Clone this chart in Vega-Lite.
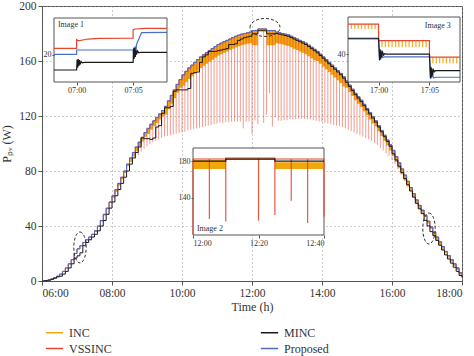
{
"$schema": "https://vega.github.io/schema/vega-lite/v6.json",
"width": 420, "height": 275,
"autosize": {"type": "none"},
"padding": {"left": 42, "top": 6, "right": 12, "bottom": 75},
"background": "white",
"config": {
  "font": "Liberation Serif",
  "view": {"stroke": "#555", "strokeWidth": 1},
  "axis": {"labelFont": "Liberation Serif", "titleFont": "Liberation Serif", "titleFontWeight": "normal", "labelColor": "#333", "titleColor": "#333", "domainColor": "#555", "tickColor": "#555", "gridColor": "#999", "gridDash": [1, 3], "gridWidth": 1}
},
"datasets": {
  "main": [
{"m":360,"p":0,"lo":0,"minc":0},
{"m":365,"p":0.3,"lo":0.3,"minc":0.2},
{"m":370,"p":0.8,"lo":0.8,"minc":0.6},
{"m":375,"p":1.5,"lo":1.5,"minc":1.2},
{"m":380,"p":2.4,"lo":2.4,"minc":2.0},
{"m":385,"p":3.5,"lo":3.5,"minc":3.0},
{"m":390,"p":5.0,"lo":5.0,"minc":3.5},
{"m":395,"p":7.0,"lo":7.0,"minc":5.0},
{"m":400,"p":9.5,"lo":9.5,"minc":7.0},
{"m":405,"p":12.5,"lo":12.5,"minc":9.5},
{"m":410,"p":15.5,"lo":15.5,"minc":12.5},
{"m":415,"p":20.0,"lo":20.0,"minc":16.6},
{"m":420,"p":23.4,"lo":23.4,"minc":18.3},
{"m":425,"p":25.7,"lo":25.7,"minc":20.5},
{"m":430,"p":28.0,"lo":28.0,"minc":25.7},
{"m":435,"p":30.0,"lo":30.0,"minc":28.0},
{"m":440,"p":32.0,"lo":32.0,"minc":30.0},
{"m":445,"p":34.0,"lo":34.0,"minc":32.0},
{"m":450,"p":36.5,"lo":35.7,"minc":34.0},
{"m":455,"p":40.0,"lo":39.2,"minc":36.5},
{"m":460,"p":44.0,"lo":43.2,"minc":40.0},
{"m":465,"p":48.5,"lo":47.7,"minc":44.0},
{"m":470,"p":53.0,"lo":52.2,"minc":48.5},
{"m":475,"p":57.5,"lo":56.7,"minc":53.0},
{"m":480,"p":62.0,"lo":60.5,"minc":57.5,"sp":60.5},
{"m":485,"p":66.5,"lo":65.0,"minc":62.0,"sp":64},
{"m":490,"p":71.0,"lo":69.5,"minc":66.5,"sp":68},
{"m":495,"p":75.5,"lo":74.0,"minc":71.0,"sp":72},
{"m":500,"p":80.0,"lo":78.5,"minc":75.5,"sp":76},
{"m":505,"p":85.0,"lo":83.5,"minc":80.0,"sp":80},
{"m":510,"p":89.5,"lo":86.5,"minc":85.0,"sp":83},
{"m":515,"p":93.5,"lo":90.5,"minc":89.5,"sp":86},
{"m":520,"p":97.5,"lo":94.5,"minc":93.5,"sp":89},
{"m":525,"p":101.0,"lo":98.0,"minc":97.5,"sp":91.5},
{"m":530,"p":104.5,"lo":101.5,"minc":104.0,"sp":94},
{"m":535,"p":108.0,"lo":105.0,"minc":103.5,"sp":96},
{"m":540,"p":111.0,"lo":107.0,"minc":103.5,"sp":98},
{"m":545,"p":114.0,"lo":110.0,"minc":103.0,"sp":99.5},
{"m":550,"p":116.5,"lo":112.5,"minc":104.0,"sp":101},
{"m":555,"p":119.0,"lo":115.0,"minc":112.0,"sp":102},
{"m":560,"p":121.5,"lo":117.5,"minc":113.0,"sp":103},
{"m":565,"p":124.0,"lo":120.0,"minc":122.0,"sp":104},
{"m":570,"p":127.0,"lo":121.0,"minc":126.0,"sp":105},
{"m":575,"p":131.0,"lo":125.0,"minc":126.0,"sp":105.5},
{"m":580,"p":135.0,"lo":129.0,"minc":127.0,"sp":106},
{"m":585,"p":139.0,"lo":133.0,"minc":138.0,"sp":106.5},
{"m":590,"p":143.0,"lo":137.0,"minc":139.0,"sp":107},
{"m":595,"p":146.5,"lo":140.5,"minc":139.0,"sp":107.5},
{"m":600,"p":150.0,"lo":142.0,"minc":139.0,"sp":108},
{"m":605,"p":152.5,"lo":144.5,"minc":139.0,"sp":108.5},
{"m":610,"p":155.0,"lo":147.0,"minc":140.0,"sp":109.5},
{"m":615,"p":157.0,"lo":149.0,"minc":151.0,"sp":110},
{"m":620,"p":159.0,"lo":151.0,"minc":151.5,"sp":110.5},
{"m":625,"p":161.0,"lo":153.0,"minc":152.0,"sp":111},
{"m":630,"p":163.0,"lo":155.0,"minc":159.0,"sp":111.5},
{"m":635,"p":164.5,"lo":156.5,"minc":163.0,"sp":112},
{"m":640,"p":166.0,"lo":158.0,"minc":164.5,"sp":112.5},
{"m":645,"p":167.5,"lo":159.5,"minc":167.0,"sp":113},
{"m":650,"p":169.0,"lo":161.0,"minc":167.0,"sp":113.5},
{"m":655,"p":170.5,"lo":162.5,"minc":167.0,"sp":114},
{"m":660,"p":172.0,"lo":164.0,"minc":167.5,"sp":114.5},
{"m":665,"p":173.0,"lo":165.0,"minc":168.0,"sp":115},
{"m":670,"p":174.0,"lo":166.0,"minc":168.5,"sp":115},
{"m":675,"p":175.0,"lo":167.0,"minc":169.0,"sp":115.5},
{"m":680,"p":176.0,"lo":168.0,"minc":172.0,"sp":115.5},
{"m":685,"p":177.0,"lo":169.0,"minc":172.0,"sp":116},
{"m":690,"p":178.0,"lo":170.0,"minc":172.5,"sp":116},
{"m":695,"p":178.8,"lo":170.8,"minc":175.0,"sp":116},
{"m":700,"p":179.5,"lo":171.5,"minc":176.0,"sp":116},
{"m":705,"p":180.0,"lo":172.0,"minc":177.0,"sp":111},
{"m":710,"p":180.5,"lo":172.5,"minc":177.5,"sp":116},
{"m":715,"p":181.0,"lo":173.0,"minc":178.0,"sp":116},
{"m":720,"p":182.2,"lo":171.5,"minc":179.8,"sp":107},
{"m":725,"p":182.2,"lo":171.5,"minc":179.8,"sp":116.7},
{"m":730,"p":183.3,"lo":181.8,"minc":182.0,"sp":114.2},
{"m":735,"p":183.3,"lo":181.8,"minc":182.0},
{"m":740,"p":183.3,"lo":181.8,"minc":182.0,"sp":115},
{"m":745,"p":182.2,"lo":171.5,"minc":179.8,"sp":121},
{"m":750,"p":182.2,"lo":171.5,"minc":179.8,"sp":136.7},
{"m":755,"p":182.2,"lo":171.5,"minc":179.8,"sp":112.4},
{"m":760,"p":181.0,"lo":173.0,"minc":180.0,"sp":119},
{"m":765,"p":180.5,"lo":172.5,"minc":179.5,"sp":116.5},
{"m":770,"p":180.0,"lo":172.0,"minc":179.0,"sp":116.5},
{"m":775,"p":179.5,"lo":171.5,"minc":178.5,"sp":117},
{"m":780,"p":179.0,"lo":171.0,"minc":178.0,"sp":117},
{"m":785,"p":178.0,"lo":170.0,"minc":177.0,"sp":117.5},
{"m":790,"p":177.0,"lo":169.0,"minc":176.0,"sp":117.5},
{"m":795,"p":176.0,"lo":168.0,"minc":175.0,"sp":117.5},
{"m":800,"p":175.0,"lo":167.0,"minc":174.0,"sp":118},
{"m":805,"p":174.0,"lo":166.0,"minc":173.0,"sp":118},
{"m":810,"p":173.0,"lo":165.0,"minc":172.0,"sp":118},
{"m":815,"p":171.5,"lo":163.5,"minc":170.5,"sp":117.5},
{"m":820,"p":170.0,"lo":162.0,"minc":169.0,"sp":117.5},
{"m":825,"p":168.5,"lo":160.5,"minc":167.5,"sp":117},
{"m":830,"p":167.0,"lo":160.0,"minc":166.0,"sp":116.5},
{"m":835,"p":165.0,"lo":158.0,"minc":164.0,"sp":116},
{"m":840,"p":163.0,"lo":156.0,"minc":162.0,"sp":115.5},
{"m":845,"p":161.0,"lo":154.0,"minc":160.0,"sp":115},
{"m":850,"p":159.0,"lo":152.0,"minc":158.0,"sp":114.5},
{"m":855,"p":157.0,"lo":150.0,"minc":156.0,"sp":114},
{"m":860,"p":155.0,"lo":148.0,"minc":154.0,"sp":113.5},
{"m":865,"p":153.0,"lo":146.0,"minc":152.0,"sp":113},
{"m":870,"p":151.0,"lo":144.0,"minc":150.0,"sp":112.5},
{"m":875,"p":148.5,"lo":141.5,"minc":147.5,"sp":112},
{"m":880,"p":145.5,"lo":140.5,"minc":144.5,"sp":111},
{"m":885,"p":142.5,"lo":137.5,"minc":141.5,"sp":110},
{"m":890,"p":139.5,"lo":134.5,"minc":138.5,"sp":109},
{"m":895,"p":136.5,"lo":131.5,"minc":135.5,"sp":108},
{"m":900,"p":134.0,"lo":129.0,"minc":133.0,"sp":107},
{"m":905,"p":131.5,"lo":126.5,"minc":130.5,"sp":106},
{"m":910,"p":128.5,"lo":123.5,"minc":127.5,"sp":105},
{"m":915,"p":125.5,"lo":120.5,"minc":124.5,"sp":104},
{"m":920,"p":122.5,"lo":117.5,"minc":121.5,"sp":103},
{"m":925,"p":119.5,"lo":114.5,"minc":118.5,"sp":102},
{"m":930,"p":116.5,"lo":112.5,"minc":115.5,"sp":100.5},
{"m":935,"p":113.0,"lo":109.0,"minc":112.0,"sp":99},
{"m":940,"p":109.5,"lo":105.5,"minc":108.5,"sp":97},
{"m":945,"p":106.0,"lo":102.0,"minc":105.0,"sp":95},
{"m":950,"p":102.5,"lo":98.5,"minc":101.5,"sp":93},
{"m":955,"p":99.0,"lo":95.0,"minc":98.0,"sp":91},
{"m":960,"p":95.0,"lo":91.0,"minc":92.5,"sp":88},
{"m":965,"p":90.5,"lo":86.5,"minc":88.0,"sp":85},
{"m":970,"p":86.0,"lo":82.0,"minc":83.5,"sp":81.5},
{"m":975,"p":81.5,"lo":77.5,"minc":79.0,"sp":78},
{"m":980,"p":77.0,"lo":73.0,"minc":74.5,"sp":74},
{"m":985,"p":72.5,"lo":68.5,"minc":70.0,"sp":70},
{"m":990,"p":68.0,"lo":65.5,"minc":65.5,"sp":66},
{"m":995,"p":63.5,"lo":61.0,"minc":61.0,"sp":61.5},
{"m":1000,"p":59.0,"lo":56.5,"minc":56.5,"sp":57},
{"m":1005,"p":55.0,"lo":52.5,"minc":52.5,"sp":53},
{"m":1010,"p":51.5,"lo":49.0,"minc":49.0},
{"m":1015,"p":47.7,"lo":46.45,"minc":44.1},
{"m":1020,"p":43.5,"lo":41.8,"minc":40.1},
{"m":1025,"p":39.3,"lo":37.75,"minc":35.9},
{"m":1030,"p":35.5,"lo":33.0,"minc":33.0},
{"m":1035,"p":32.0,"lo":29.5,"minc":29.5},
{"m":1040,"p":28.5,"lo":26.0,"minc":26.0},
{"m":1045,"p":25.0,"lo":22.5,"minc":22.5},
{"m":1050,"p":21.5,"lo":20.0,"minc":19.0},
{"m":1055,"p":18.5,"lo":17.0,"minc":16.0},
{"m":1060,"p":15.5,"lo":14.0,"minc":13.0},
{"m":1065,"p":12.5,"lo":11.0,"minc":10.0},
{"m":1070,"p":9.5,"lo":8.0,"minc":7.0},
{"m":1075,"p":6.0,"lo":4.5,"minc":4.0},
{"m":1080,"p":3.0,"lo":3.0,"minc":2.5}
  ],
  "img1": [
{"s":"VSSINC","m":418,"v":21.37},{"s":"VSSINC","m":420,"v":21.37},{"s":"VSSINC","m":420,"v":23.25},{"s":"VSSINC","m":420.15,"v":23.0},{"s":"VSSINC","m":421,"v":23.4},{"s":"VSSINC","m":422,"v":23.55},{"s":"VSSINC","m":425,"v":23.6},{"s":"VSSINC","m":425,"v":25.44},{"s":"VSSINC","m":425.2,"v":25.6},{"s":"VSSINC","m":426,"v":25.75},{"s":"VSSINC","m":428,"v":25.75},
{"s":"Proposed","m":418,"v":20.06},{"s":"Proposed","m":420,"v":20.06},{"s":"Proposed","m":420,"v":21.0},{"s":"Proposed","m":425,"v":21.0},{"s":"Proposed","m":425.05,"v":19.5},{"s":"Proposed","m":425.1,"v":21.6},{"s":"Proposed","m":425.15,"v":19.8},{"s":"Proposed","m":425.2,"v":21.8},{"s":"Proposed","m":425.25,"v":20.5},{"s":"Proposed","m":425.3,"v":22.2},{"s":"Proposed","m":425.75,"v":24.8},{"s":"Proposed","m":428,"v":24.85},
{"s":"MINC","m":418,"v":16.63},{"s":"MINC","m":420,"v":16.63},{"s":"MINC","m":420.05,"v":18.9},{"s":"MINC","m":420.1,"v":17.1},{"s":"MINC","m":420.15,"v":19.0},{"s":"MINC","m":420.2,"v":17.5},{"s":"MINC","m":420.25,"v":18.8},{"s":"MINC","m":420.3,"v":17.8},{"s":"MINC","m":420.4,"v":18.5},{"s":"MINC","m":420.5,"v":18.2},{"s":"MINC","m":420.7,"v":18.31},{"s":"MINC","m":425,"v":18.31},{"s":"MINC","m":425.05,"v":21.4},{"s":"MINC","m":425.1,"v":19.1},{"s":"MINC","m":425.15,"v":21.5},{"s":"MINC","m":425.2,"v":19.5},{"s":"MINC","m":425.25,"v":21.0},{"s":"MINC","m":425.3,"v":20.0},{"s":"MINC","m":425.4,"v":20.8},{"s":"MINC","m":425.5,"v":20.4},{"s":"MINC","m":425.7,"v":20.5},{"s":"MINC","m":428,"v":20.5}
  ],
  "img2": [
{"m":720,"p":182.2,"lo":171.3,"hi":181.1,"minc":179.8,"sp":100},
{"m":725,"p":182.2,"lo":171.3,"hi":181.1,"minc":179.8,"sp":116.7},
{"m":730,"p":183.3,"lo":181.6,"hi":183.0,"minc":182.0,"sp":114.2},
{"m":735,"p":183.3,"lo":181.6,"hi":183.0,"minc":182.0},
{"m":740,"p":183.3,"lo":181.6,"hi":183.0,"minc":182.0,"sp":115},
{"m":745,"p":182.2,"lo":171.3,"hi":178.6,"minc":179.8,"sp":121.1},
{"m":750,"p":182.2,"lo":171.3,"hi":178.6,"minc":179.8,"sp":136.7},
{"m":755,"p":182.2,"lo":171.3,"hi":178.6,"minc":179.8,"sp":112.4},
{"m":760,"p":182.2,"lo":171.3,"hi":178.6,"minc":179.8,"sp":119.3}
  ],
  "img3": [
{"s":"VSSINC","m":1017,"v":47.7},{"s":"VSSINC","m":1020,"v":47.7},{"s":"VSSINC","m":1020,"v":43.5},{"s":"VSSINC","m":1025,"v":43.5},{"s":"VSSINC","m":1025,"v":39.3},{"s":"VSSINC","m":1028,"v":39.3},
{"s":"Proposed","m":1017,"v":43.95},{"s":"Proposed","m":1020,"v":43.95},{"s":"Proposed","m":1020.05,"v":41.4},{"s":"Proposed","m":1020.1,"v":38.4},{"s":"Proposed","m":1020.15,"v":41.0},{"s":"Proposed","m":1020.2,"v":38.7},{"s":"Proposed","m":1020.3,"v":39.8},{"s":"Proposed","m":1020.4,"v":39.2},{"s":"Proposed","m":1020.6,"v":39.4},{"s":"Proposed","m":1025,"v":39.4},{"s":"Proposed","m":1025.05,"v":37.0},{"s":"Proposed","m":1025.1,"v":33.8},{"s":"Proposed","m":1025.15,"v":36.5},{"s":"Proposed","m":1025.2,"v":34.0},{"s":"Proposed","m":1025.3,"v":35.0},{"s":"Proposed","m":1025.4,"v":34.0},{"s":"Proposed","m":1025.6,"v":34.2},{"s":"Proposed","m":1028,"v":34.2},
{"s":"MINC","m":1017,"v":44.1},{"s":"MINC","m":1020,"v":44.1},{"s":"MINC","m":1020.05,"v":41.6},{"s":"MINC","m":1020.1,"v":38.6},{"s":"MINC","m":1020.15,"v":41.3},{"s":"MINC","m":1020.2,"v":38.9},{"s":"MINC","m":1020.25,"v":41.0},{"s":"MINC","m":1020.3,"v":39.3},{"s":"MINC","m":1020.4,"v":40.6},{"s":"MINC","m":1020.5,"v":39.8},{"s":"MINC","m":1020.6,"v":40.2},{"s":"MINC","m":1020.8,"v":40.1},{"s":"MINC","m":1025,"v":40.1},{"s":"MINC","m":1025.05,"v":37.2},{"s":"MINC","m":1025.1,"v":34.0},{"s":"MINC","m":1025.15,"v":36.8},{"s":"MINC","m":1025.2,"v":34.3},{"s":"MINC","m":1025.25,"v":36.4},{"s":"MINC","m":1025.3,"v":34.7},{"s":"MINC","m":1025.4,"v":36.1},{"s":"MINC","m":1025.5,"v":35.6},{"s":"MINC","m":1025.6,"v":35.9},{"s":"MINC","m":1028,"v":35.9}
  ],
  "img3t": [
{"m":1017.33,"top":47.7,"low":46.45},{"m":1017.67,"top":47.7,"low":46.45},{"m":1018,"top":47.7,"low":46.45},{"m":1018.33,"top":47.7,"low":46.45},{"m":1018.67,"top":47.7,"low":46.45},{"m":1019,"top":47.7,"low":46.45},{"m":1019.33,"top":47.7,"low":46.45},{"m":1019.67,"top":47.7,"low":46.45},
{"m":1020.33,"top":43.5,"low":41.8},{"m":1020.67,"top":43.5,"low":41.8},{"m":1021,"top":43.5,"low":41.8},{"m":1021.33,"top":43.5,"low":41.8},{"m":1021.67,"top":43.5,"low":41.8},{"m":1022,"top":43.5,"low":41.8},{"m":1022.33,"top":43.5,"low":41.8},{"m":1022.67,"top":43.5,"low":41.8},{"m":1023,"top":43.5,"low":41.8},{"m":1023.33,"top":43.5,"low":41.8},{"m":1023.67,"top":43.5,"low":41.8},{"m":1024,"top":43.5,"low":41.8},{"m":1024.33,"top":43.5,"low":41.8},{"m":1024.67,"top":43.5,"low":41.8},
{"m":1025.33,"top":39.3,"low":37.75},{"m":1025.67,"top":39.3,"low":37.75},{"m":1026,"top":39.3,"low":37.75},{"m":1026.33,"top":39.3,"low":37.75},{"m":1026.67,"top":39.3,"low":37.75},{"m":1027,"top":39.3,"low":37.75},{"m":1027.33,"top":39.3,"low":37.75},{"m":1027.67,"top":39.3,"low":37.75}
  ]
},
"resolve": {"scale": {"x": "independent", "y": "independent"}},
"layer": [
  {
    "data": {"name": "main"},
    "layer": [
      {"mark": {"type": "area", "interpolate": "step-after", "color": "#F2A60D"},
       "encoding": {
         "x": {"field": "m", "type": "quantitative", "scale": {"domain": [360, 1080], "nice": false, "zero": false},
               "axis": {"values": [360,420,480,540,600,660,720,780,840,900,960,1020,1080], "labelExpr": "datum.value%120==0?((floor(datum.value/60)<10?'0':'')+floor(datum.value/60)+':00'):''", "title": "Time (h)", "grid": true, "labelFontSize": 11.5, "titleFontSize": 12, "tickSize": 4, "labelPadding": 2, "titlePadding": 3}},
         "y": {"field": "lo", "type": "quantitative", "scale": {"domain": [0, 200], "nice": false},
               "axis": {"values": [0,40,80,120,160,200], "title": "Pₚᵥ (W)", "grid": true, "labelFontSize": 11.5, "titleFontSize": 12, "tickSize": 4, "titlePadding": 5}},
         "y2": {"field": "p"}
       }},
      {"transform": [{"filter": "isValid(datum.sp)"}],
       "mark": {"type": "rule", "color": "#E8452C", "opacity": 0.6, "strokeWidth": 0.9},
       "encoding": {"x": {"field": "m", "type": "quantitative"}, "y": {"field": "sp", "type": "quantitative"}, "y2": {"field": "p"}}},
      {"mark": {"type": "line", "interpolate": "step-after", "strokeWidth": 1},
       "encoding": {"x": {"field": "m", "type": "quantitative"}, "y": {"field": "p", "type": "quantitative"},
         "color": {"datum": "VSSINC", "type": "nominal",
           "scale": {"domain": ["INC","VSSINC","MINC","Proposed"], "range": ["#F2A60D","#E8452C","#1a1a1a","#4A6FC8"]},
           "legend": {"orient": "none", "legendX": 3, "legendY": 317, "columns": 2, "columnPadding": 145, "rowPadding": 0, "symbolType": "stroke", "symbolSize": 300, "symbolStrokeWidth": 1.5, "labelFont": "Liberation Serif", "labelFontSize": 12, "labelColor": "#333", "labelOffset": 5, "title": null}}}},
      {"mark": {"type": "line", "interpolate": "step-after", "strokeWidth": 1},
       "encoding": {"x": {"field": "m", "type": "quantitative"}, "y": {"field": "p", "type": "quantitative"},
         "color": {"datum": "Proposed", "type": "nominal", "scale": {"domain": ["INC","VSSINC","MINC","Proposed"], "range": ["#F2A60D","#E8452C","#1a1a1a","#4A6FC8"]}}}},
      {"mark": {"type": "line", "interpolate": "step-after", "strokeWidth": 1},
       "encoding": {"x": {"field": "m", "type": "quantitative"}, "y": {"field": "minc", "type": "quantitative"},
         "color": {"datum": "MINC", "type": "nominal", "scale": {"domain": ["INC","VSSINC","MINC","Proposed"], "range": ["#F2A60D","#E8452C","#1a1a1a","#4A6FC8"]}}}},
      {"data": {"values": [{"m": 425.1, "p": 24.4}, {"m": 1023.4, "p": 38.2}]},
       "mark": {"type": "point", "shape": "M0,-1A0.4,1,0,1,1,0,1A0.4,1,0,1,1,0,-1Z", "size": 961, "filled": false, "stroke": "#333", "strokeWidth": 1, "strokeDash": [3, 2], "opacity": 1},
       "encoding": {"x": {"field": "m", "type": "quantitative"}, "y": {"field": "p", "type": "quantitative"}}},
      {"data": {"values": [{"m": 742.3, "p": 184.4}]},
       "mark": {"type": "point", "shape": "M-1,0A1,0.6,0,1,1,1,0A1,0.6,0,1,1,-1,0Z", "size": 900, "filled": false, "stroke": "#333", "strokeWidth": 1, "strokeDash": [3, 2], "opacity": 1},
       "encoding": {"x": {"field": "m", "type": "quantitative"}, "y": {"field": "p", "type": "quantitative"}}}
    ]
  },
  {
    "layer": [
      {"data": {"values": [{}]},
       "mark": {"type": "rect", "fill": "white", "stroke": "#555", "strokeWidth": 1},
       "encoding": {
         "x": {"datum": 418, "type": "quantitative", "scale": {"domain": [418, 428], "range": [12, 125], "nice": false, "zero": false},
               "axis": {"orient": "bottom", "offset": -199, "values": [420, 425], "labelExpr": "(floor(datum.value/60)<10?'0':'')+floor(datum.value/60)+':'+(datum.value%60<10?'0':'')+datum.value%60", "title": null, "grid": false, "domain": false, "labelFontSize": 8, "tickSize": 3, "labelPadding": 1, "zindex": 2}},
         "x2": {"datum": 428},
         "y": {"datum": 14, "type": "quantitative", "scale": {"domain": [14, 28], "range": [76, 12], "nice": false, "zero": false},
               "axis": {"orient": "left", "offset": -12, "values": [20], "title": null, "grid": false, "domain": false, "labelFontSize": 8, "tickSize": 2, "labelPadding": 1, "zindex": 2}},
         "y2": {"datum": 28}
       }},
      {"data": {"name": "img1"},
       "mark": {"type": "line", "strokeWidth": 1.2},
       "encoding": {"x": {"field": "m", "type": "quantitative"}, "y": {"field": "v", "type": "quantitative"},
         "color": {"field": "s", "type": "nominal", "scale": {"domain": ["INC","VSSINC","MINC","Proposed"], "range": ["#F2A60D","#E8452C","#1a1a1a","#4A6FC8"]}, "legend": null}}},
      {"data": {"values": [{}]},
       "mark": {"type": "text", "text": "Image 1", "align": "left", "baseline": "middle", "fontSize": 8, "font": "Liberation Serif", "color": "#333"},
       "encoding": {"x": {"datum": 418.35, "type": "quantitative"}, "y": {"datum": 26.4, "type": "quantitative"}}}
    ]
  },
  {
    "layer": [
      {"data": {"values": [{}]},
       "mark": {"type": "rect", "fill": "white", "stroke": "#555", "strokeWidth": 1},
       "encoding": {
         "x": {"datum": 720, "type": "quantitative", "scale": {"domain": [720, 760], "range": [151, 282], "nice": false, "zero": false},
               "axis": {"orient": "bottom", "offset": -46, "values": [720, 740, 760], "labelExpr": "(floor(datum.value/60)<10?'0':'')+floor(datum.value/60)+':'+(datum.value%60<10?'0':'')+datum.value%60", "title": null, "grid": false, "domain": false, "labelFontSize": 8, "tickSize": 3, "labelPadding": 1, "zindex": 2}},
         "x2": {"datum": 760},
         "y": {"datum": 99.4, "type": "quantitative", "scale": {"domain": [99.4, 194.2], "range": [229, 142], "nice": false, "zero": false},
               "axis": {"orient": "left", "offset": -151, "values": [140, 180], "title": null, "grid": false, "domain": false, "labelFontSize": 8, "tickSize": 2, "labelPadding": 1, "zindex": 2}},
         "y2": {"datum": 194.2}
       }},
      {"data": {"name": "img2"},
       "mark": {"type": "area", "interpolate": "step-after", "color": "#F2A60D"},
       "encoding": {"x": {"field": "m", "type": "quantitative"}, "y": {"field": "lo", "type": "quantitative"}, "y2": {"field": "hi"}}},
      {"data": {"name": "img2"},
       "transform": [{"filter": "isValid(datum.sp)"}],
       "mark": {"type": "rule", "color": "#E8452C", "strokeWidth": 1.2, "opacity": 0.9},
       "encoding": {"x": {"field": "m", "type": "quantitative"}, "y": {"field": "sp", "type": "quantitative"}, "y2": {"field": "p"}}},
      {"data": {"name": "img2"},
       "mark": {"type": "line", "interpolate": "step-after", "strokeWidth": 1.2, "color": "#E8452C"},
       "encoding": {"x": {"field": "m", "type": "quantitative"}, "y": {"field": "p", "type": "quantitative"}}},
      {"data": {"name": "img2"},
       "mark": {"type": "line", "interpolate": "step-after", "strokeWidth": 1.2, "color": "#1a1a1a"},
       "encoding": {"x": {"field": "m", "type": "quantitative"}, "y": {"field": "minc", "type": "quantitative"}}},
      {"data": {"values": [{}]},
       "mark": {"type": "text", "text": "Image 2", "align": "left", "baseline": "middle", "fontSize": 8, "font": "Liberation Serif", "color": "#333"},
       "encoding": {"x": {"datum": 721.2, "type": "quantitative"}, "y": {"datum": 106.4, "type": "quantitative"}}}
    ]
  },
  {
    "layer": [
      {"data": {"values": [{}]},
       "mark": {"type": "rect", "fill": "white", "stroke": "#555", "strokeWidth": 1},
       "encoding": {
         "x": {"datum": 1017, "type": "quantitative", "scale": {"domain": [1017, 1028], "range": [306, 418], "nice": false, "zero": false},
               "axis": {"orient": "bottom", "offset": -199, "values": [1020, 1025], "labelExpr": "(floor(datum.value/60)<10?'0':'')+floor(datum.value/60)+':'+(datum.value%60<10?'0':'')+datum.value%60", "title": null, "grid": false, "domain": false, "labelFontSize": 8, "tickSize": 3, "labelPadding": 1, "zindex": 2}},
         "x2": {"datum": 1028},
         "y": {"datum": 33, "type": "quantitative", "scale": {"domain": [33, 49.5], "range": [76, 11], "nice": false, "zero": false},
               "axis": {"orient": "left", "offset": -306, "values": [40], "title": null, "grid": false, "domain": false, "labelFontSize": 8, "tickSize": 2, "labelPadding": 1, "zindex": 2}},
         "y2": {"datum": 49.5}
       }},
      {"data": {"name": "img3t"},
       "mark": {"type": "rule", "color": "#F2A60D", "strokeWidth": 1.3, "opacity": 0.85},
       "encoding": {"x": {"field": "m", "type": "quantitative"}, "y": {"field": "low", "type": "quantitative"}, "y2": {"field": "top"}}},
      {"data": {"name": "img3"},
       "mark": {"type": "line", "strokeWidth": 1.2},
       "encoding": {"x": {"field": "m", "type": "quantitative"}, "y": {"field": "v", "type": "quantitative"},
         "color": {"field": "s", "type": "nominal", "scale": {"domain": ["INC","VSSINC","MINC","Proposed"], "range": ["#F2A60D","#E8452C","#1a1a1a","#4A6FC8"]}, "legend": null}}},
      {"data": {"values": [{}]},
       "mark": {"type": "text", "text": "Image 3", "align": "right", "baseline": "middle", "fontSize": 8, "font": "Liberation Serif", "color": "#333"},
       "encoding": {"x": {"datum": 1027.1, "type": "quantitative"}, "y": {"datum": 47.3, "type": "quantitative"}}}
    ]
  }
]
}
